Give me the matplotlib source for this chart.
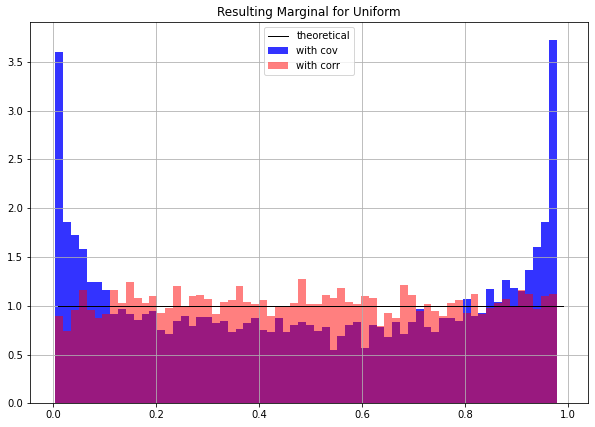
import matplotlib
matplotlib.use("Agg")
import matplotlib.pyplot as plt
import numpy as np

# bin edges of the histogram (64 bins)
bin_lo = 0.0043
bin_hi = 0.978
n_bins = 64

# heights (density), left to right
with_cov = [
    3.60, 1.856, 1.723, 1.58, 1.241, 1.241, 1.159, 0.913, 0.964, 0.913,
    0.851, 0.916, 0.944, 0.749, 0.708, 0.841, 0.892, 0.79, 0.882, 0.882,
    0.821, 0.841, 0.731, 0.759, 0.821, 0.872, 0.749, 0.728, 0.872, 0.728,
    0.80, 0.831, 0.80, 0.738, 0.779, 0.544, 0.687, 0.80, 0.831, 0.564,
    0.80, 0.779, 0.677, 0.831, 0.708, 0.831, 0.964, 0.779, 0.728, 0.872,
    0.872, 0.841, 1.067, 0.892, 0.923, 1.169, 1.036, 1.262, 1.179, 1.149,
    1.364, 1.60, 1.856, 3.72,
]
with_corr = [
    0.89, 0.738, 0.96, 1.166, 0.96, 0.875, 0.92, 1.159, 1.026, 1.241,
    1.077, 1.029, 1.097, 0.926, 0.974, 1.203, 0.985, 1.097, 1.108, 1.067,
    0.916, 1.036, 1.056, 1.20, 1.036, 1.015, 1.056, 0.892, 0.995, 0.985,
    1.026, 1.272, 1.015, 1.015, 1.108, 1.077, 1.179, 1.036, 1.015, 1.097,
    1.077, 0.79, 0.923, 0.872, 1.21, 1.108, 0.944, 1.015, 0.944, 0.892,
    1.026, 1.056, 0.923, 1.118, 0.913, 0.974, 1.026, 1.067, 0.985, 1.159,
    1.118, 0.964, 1.097, 1.118,
]

# theoretical uniform density
theo_x = [0.01, 0.99]
theo_y = [1.0, 1.0]

edges = np.linspace(bin_lo, bin_hi, n_bins + 1)
centers = (edges[:-1] + edges[1:]) / 2

fig = plt.figure(figsize=(595 / 72, 427 / 72), dpi=72)
ax = fig.add_axes([30 / 595, 1 - 403.3 / 427, 558.3 / 595, 381 / 427])

ax.plot(theo_x, theo_y, color='k', linewidth=1, label='theoretical')
ax.hist(centers, bins=edges, weights=with_cov, color='b', alpha=0.8,
        label='with cov')
ax.hist(centers, bins=edges, weights=with_corr, color='r', alpha=0.5,
        label='with corr')

ax.set_title('Resulting Marginal for Uniform', fontsize=12)
ax.grid(True)
ax.legend(loc='upper center')

fig.savefig('out.png', dpi=72, facecolor='white')
